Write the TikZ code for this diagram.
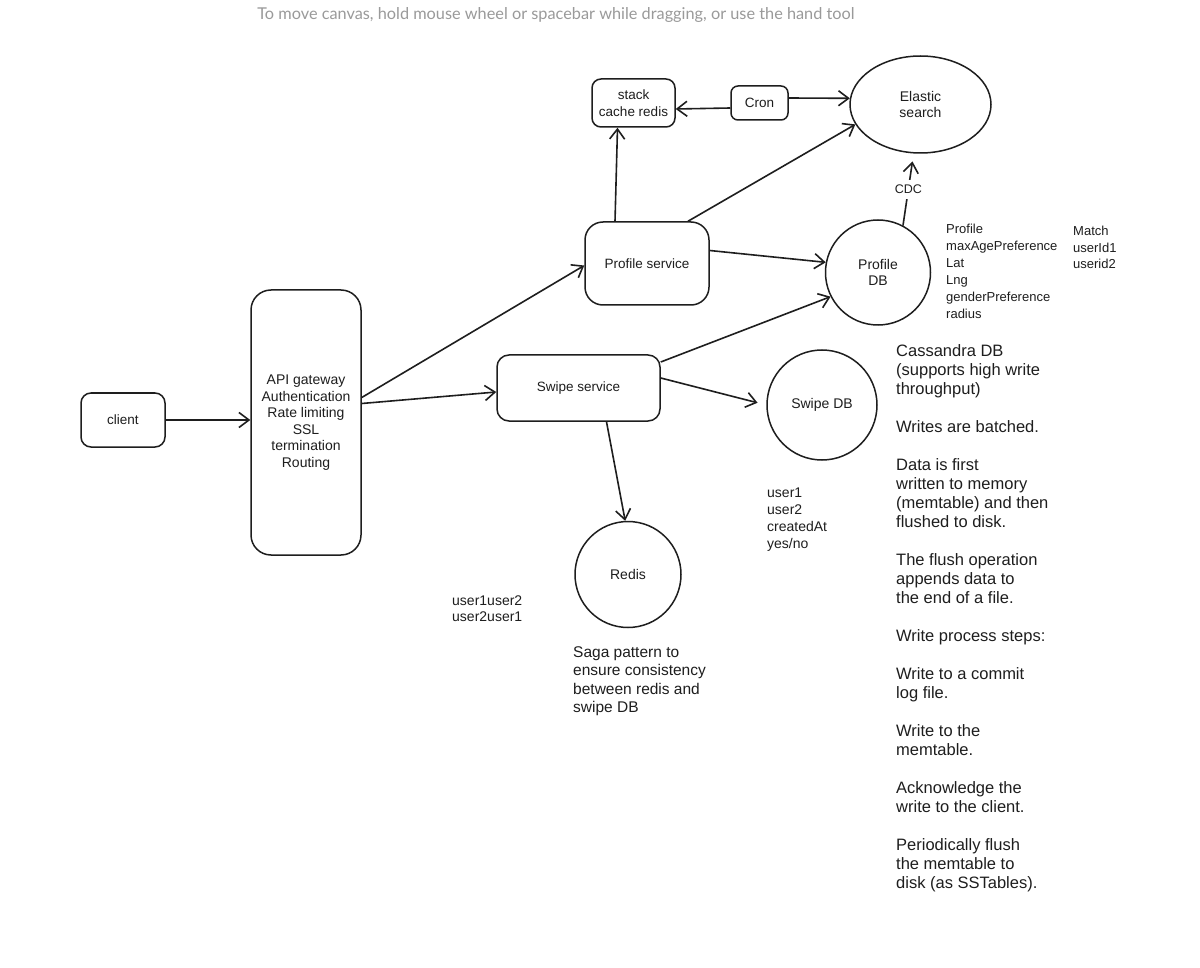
\documentclass[tikz,border=0pt]{standalone}
\usepackage{fontspec}
\setmainfont{Liberation Sans}
\newfontfamily\bannerfont{Lato}
\usetikzlibrary{arrows.meta,shapes.geometric}
\definecolor{ink}{HTML}{1E1E1E}
\definecolor{hint}{HTML}{9A9A9A}
\begin{document}
\begin{tikzpicture}[x=1pt,y=-1pt,
  box/.style={draw=ink, line width=1.5pt, rounded corners=12pt, align=center, inner sep=0pt, text=ink, font=\fontsize{13.5}{16.5}\selectfont},
  db/.style={draw=ink, line width=1.5pt, circle, align=center, inner sep=0pt, text=ink, font=\fontsize{14}{16.5}\selectfont},
  arr/.style={draw=ink, line width=1.6pt, -{Straight Barb[length=10pt,width=15pt]}},
  note/.style={anchor=north west, align=left, inner sep=0pt, text=ink}
]
\useasboundingbox[fill=white] (0,0) rectangle (1200,968);

\node[text=hint, font=\bannerfont\fontsize{16.3}{19}\selectfont] (banner) at (556,15) {To move canvas, hold mouse wheel or spacebar while dragging, or use the hand tool};

% nodes
\node[box, rounded corners=10pt, minimum width=84pt, minimum height=54pt] (client) at (123,420) {client};
\node[box, rounded corners=20pt, minimum width=110pt, minimum height=265pt, font=\fontsize{14}{16.5}\selectfont] (api) at (306,422.5) {API gateway\\Authentication\\Rate limiting\\SSL\\termination\\Routing};
\node[box, rounded corners=18pt, minimum width=124pt, minimum height=83pt] (ps) at (647,263.5) {Profile service};
\node[box, minimum width=163pt, minimum height=66pt] (ss) at (578.5,388) {Swipe service};
\node[box, rounded corners=9pt, minimum width=83pt, minimum height=48pt] (sc) at (633.5,103) {stack\\cache redis};
\node[box, rounded corners=7pt, minimum width=57pt, minimum height=34pt] (cron) at (759.5,103) {Cron};
\node[db, ellipse, minimum width=141pt, minimum height=97pt] (es) at (920.5,104.5) {Elastic\\search};
\node[db, minimum size=105pt] (pdb) at (878,272.5) {Profile\\DB};
\node[db, minimum size=110pt] (sdb) at (822,405) {Swipe DB};
\node[db, minimum size=106pt] (redis) at (628,574.5) {Redis};

% connectors
\draw[arr] (client.east) -- (client.east -| api.west);
\draw[arr] ([yshift=25pt]api.east) -- ([yshift=-2pt]ps.west);
\draw[arr] ([yshift=19pt]api.east) -- ([yshift=-4pt]ss.west);
\draw[arr] ([xshift=-32pt]ps.north) -- ([xshift=-16pt]sc.south);
\draw[arr] ([xshift=41pt]ps.north) -- (es.197);
\draw[arr] ([yshift=13pt]ps.east) -- (pdb.169);
\draw[arr] ([yshift=-5pt]cron.west) -- ([yshift=-6pt]sc.east);
\draw[arr] ([yshift=5pt]cron.east) -- (es.175);
\draw[arr] ([yshift=26pt]ss.east) -- (pdb.207);
\draw[arr, shorten >=9pt] ([yshift=10pt]ss.east) -- (sdb.west);
\draw[arr] ([xshift=28pt]ss.south) -- (redis.93);
\draw[arr, shorten >=8pt] (pdb.62) -- node[fill=white, inner sep=5pt, text=ink, font=\fontsize{12.5}{14}\selectfont] (cdc) {CDC} (es.262);

% notes
\node[note, font=\fontsize{13}{17}\selectfont] (proflist) at (946,224) {Profile\\maxAgePreference\\Lat\\Lng\\genderPreference\\radius};
\node[note, font=\fontsize{13}{16.5}\selectfont] (matchlist) at (1073,226) {Match\\userId1\\userid2};
\node[note, font=\fontsize{16.5}{19}\selectfont] (cass) at (896,344) {Cassandra DB\\(supports high write\\throughput)\\[19pt]Writes are batched.\\[19pt]Data is first\\written to memory\\(memtable) and then\\flushed to disk.\\[19pt]The flush operation\\appends data to\\the end of a file.\\[19pt]Write process steps:\\[19pt]Write to a commit\\log file.\\[19pt]Write to the\\memtable.\\[19pt]Acknowledge the\\write to the client.\\[19pt]Periodically flush\\the memtable to\\disk (as SSTables).};
\node[note, font=\fontsize{14}{17}\selectfont] (swipelist) at (767,488) {user1\\user2\\createdAt\\yes/no};
\node[note, font=\fontsize{14}{16}\selectfont] (keys) at (452,596) {user1user2\\user2user1};
\node[note, font=\fontsize{15.5}{18.5}\selectfont] (saga) at (573,646) {Saga pattern to\\ensure consistency\\between redis and\\swipe DB};
\end{tikzpicture}
\end{document}
